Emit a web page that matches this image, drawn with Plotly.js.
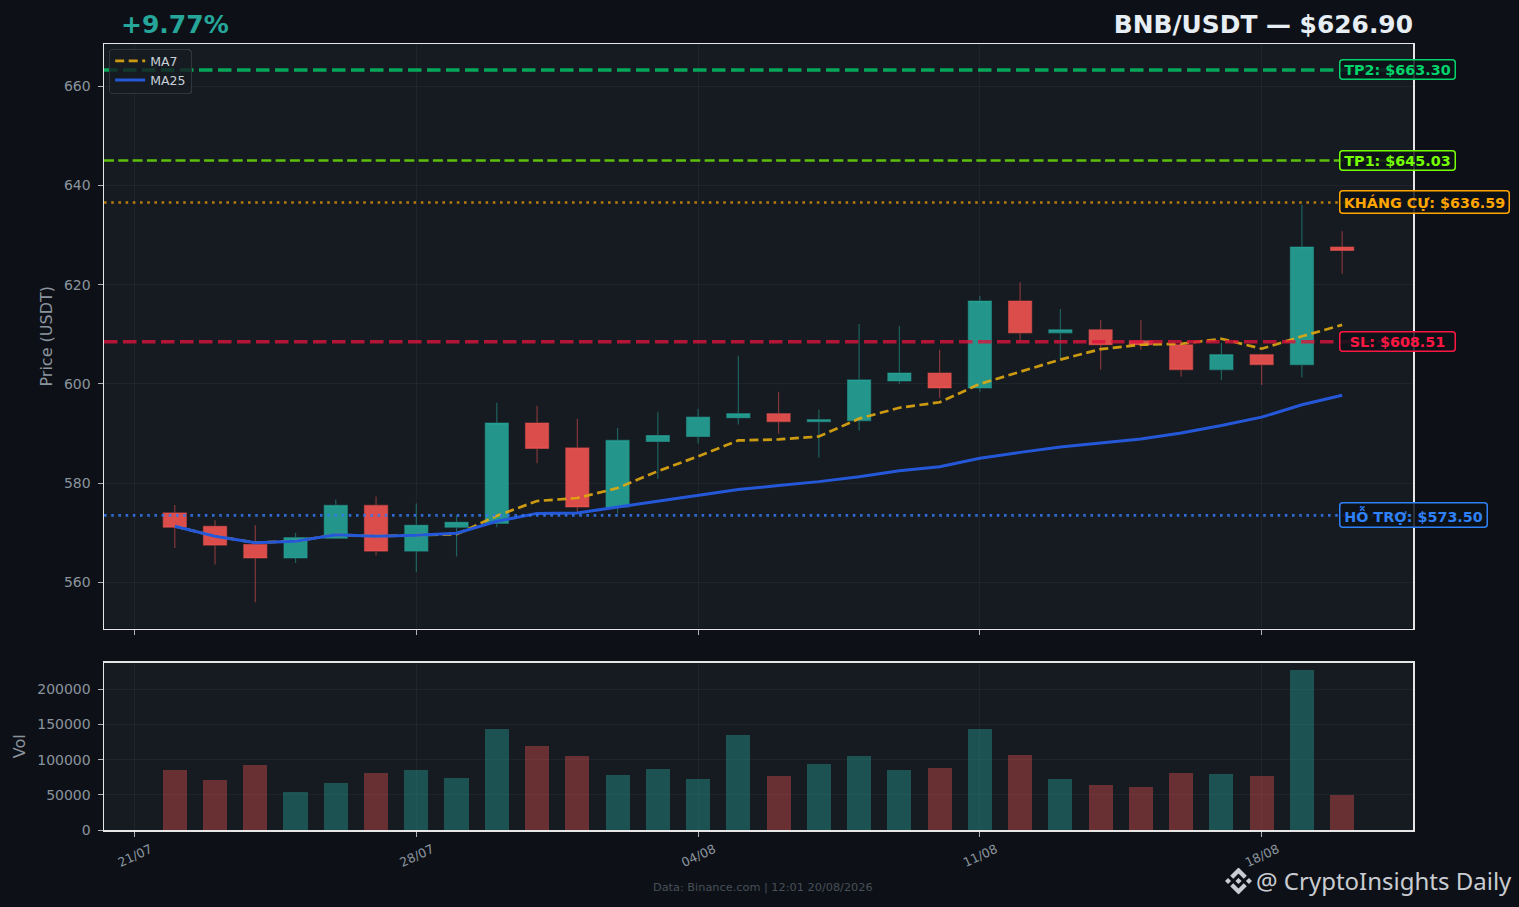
<!DOCTYPE html>
<html>
<head>
<meta charset="utf-8">
<script src="https://cdn.plot.ly/plotly-3.0.1.min.js"></script>
<style>html,body{margin:0;padding:0;background:#0d1117;overflow:hidden}#chart{width:1519px;height:907px}</style>
</head>
<body>
<div id="chart"></div>
<script>
const dates = ['2026-07-22','2026-07-23','2026-07-24','2026-07-25','2026-07-26','2026-07-27','2026-07-28','2026-07-29','2026-07-30','2026-07-31',
 '2026-08-01','2026-08-02','2026-08-03','2026-08-04','2026-08-05','2026-08-06','2026-08-07','2026-08-08','2026-08-09','2026-08-10',
 '2026-08-11','2026-08-12','2026-08-13','2026-08-14','2026-08-15','2026-08-16','2026-08-17','2026-08-18','2026-08-19','2026-08-20'];
const opens = [574.0,571.3,567.6,564.9,568.9,575.5,566.3,571.1,571.9,592.1,587.1,575.2,588.4,589.4,593.2,594.0,592.4,592.6,600.6,602.2,599.2,616.7,610.3,610.9,608.7,607.9,602.9,605.9,603.9,627.6];
const highs = [575.6,572.5,571.5,570.0,576.7,577.3,575.9,573.5,596.2,595.6,593.0,591.1,594.4,595.0,605.7,598.4,594.8,612.1,611.7,606.9,617.7,620.5,615.1,612.9,612.9,608.6,608.3,606.1,636.1,630.8];
const lows = [566.9,563.6,556.0,563.9,568.8,565.4,562.1,565.2,571.1,584.0,573.9,573.9,580.9,588.0,591.8,590.0,585.1,590.6,600.0,597.2,598.4,608.7,605.1,602.9,606.9,601.5,600.8,599.8,601.3,622.2];
const closes = [571.1,567.5,564.9,569.0,575.5,566.3,571.5,572.1,592.1,587.0,575.2,588.6,589.6,593.3,594.0,592.4,592.8,600.8,602.2,599.2,616.7,610.3,610.9,607.9,607.9,602.9,605.9,603.9,627.6,626.9];
const ma7 = [571.3,569.3,568.0,568.3,569.6,569.3,569.5,569.7,573.4,576.4,577.0,579.0,582.4,585.4,588.6,588.8,589.4,593.0,595.2,596.3,600.0,602.5,604.9,607.0,607.9,608.1,609.1,607.1,609.6,611.9];
const ma25 = [571.3,569.3,568.0,568.3,569.6,569.3,569.5,569.9,572.3,573.9,574.0,575.2,576.4,577.6,578.7,579.5,580.3,581.3,582.5,583.3,585.0,586.2,587.3,588.1,588.9,590.1,591.6,593.3,595.8,597.7];
const volumes = [85200,71000,92300,54000,66700,81000,85200,73900,143500,119300,105100,78100,86600,72400,134900,76700,93700,105100,85200,88000,143500,106500,72400,63900,61000,81000,79500,76700,227300,49700];

const levelPrices = [663.30,645.03,636.59,608.51,573.50];
const levelText = ['TP2: $663.30','TP1: $645.03','KHÁNG CỰ: $636.59','SL: $608.51','HỖ TRỢ: $573.50'];
const levelLineColors = ['rgba(0,200,100,0.82)','rgba(118,255,3,0.72)','rgba(255,165,0,0.7)','rgba(220,20,60,0.8)','rgba(50,120,240,0.85)'];
const levelTextColors = ['#00d46a','#76ff03','#ffa500','#ff1744','#2f81f7'];
const levelDash = ['13.5px,5.5px','10px,4.3px','2.6px,4.6px','13.5px,5.5px','2.6px,4.6px'];
const levelWidth = [3.4,2.4,2.6,3.4,2.6];
const labelWidth = [114,114,168,114,146];
const labelHeight = [18,18,21,18,23];

const upColor = 'rgba(38,166,154,0.88)', downColor = 'rgba(239,83,80,0.9)';
const volColors = closes.map((c,i) => c >= opens[i] ? 'rgba(38,166,154,0.40)' : 'rgba(239,83,80,0.38)');
const font = 'DejaVu Sans, sans-serif';

const L = 104, W = 1309, B = 830, H = 786;
const px = v => (v - L) / W, py = v => (B - v) / H;

const logoSvg = '<svg xmlns="http://www.w3.org/2000/svg" viewBox="0 0 126.61 126.61"><path fill="#c9ccd1" d="M38.73 53.2l24.59-24.58 24.6 24.6 14.3-14.31L63.32 0 24.41 38.9l14.32 14.3z M0 63.31l14.3-14.31 14.31 14.31-14.31 14.3z M38.73 73.41l24.59 24.59 24.6-24.6 14.31 14.29-38.9 38.91-38.91-38.88-.02-.02 14.33-14.29z M98 63.31l14.3-14.31 14.31 14.3-14.31 14.32z M77.83 63.3l-14.51-14.52-10.73 10.73-1.24 1.23-2.54 2.54 14.51 14.5 14.51-14.52z"/></svg>';

const traces = [
 {type:'candlestick',x:dates,open:opens,high:highs,low:lows,close:closes,xaxis:'x2',yaxis:'y2',showlegend:false,hoverinfo:'skip',whiskerwidth:0,
  increasing:{line:{color:'rgba(38,166,154,0.5)',width:1.2},fillcolor:upColor},
  decreasing:{line:{color:'rgba(239,83,80,0.5)',width:1.2},fillcolor:downColor}},
 {type:'scatter',mode:'lines',name:'MA7',x:dates,y:ma7,xaxis:'x2',yaxis:'y2',line:{color:'#e0a80f',width:2.7,dash:'9px,4.5px'},opacity:0.9},
 {type:'scatter',mode:'lines',name:'MA25',x:dates,y:ma25,xaxis:'x2',yaxis:'y2',line:{color:'#2558d8',width:3}},
 {type:'bar',x:dates,y:volumes,width:0.6*864e5,marker:{color:volColors,line:{width:0}},xaxis:'x',yaxis:'y',showlegend:false,hoverinfo:'skip'}
];

const gridColor = 'rgba(139,148,158,0.08)';
const xRange = ['2026-07-20 05:48','2026-08-21 18:14'];
const xCommon = {type:'date',range:xRange,tick0:'2026-07-21',dtick:7*864e5,tickformat:'%d/%m',showgrid:true,gridcolor:gridColor,gridwidth:1,
  zeroline:false,showline:true,mirror:true,linecolor:'#e6e6e6',linewidth:1.5,ticks:'outside',ticklen:5,tickwidth:1,tickcolor:'#b0b5bb',rangeslider:{visible:false}};
const yCommon = {showgrid:true,gridcolor:gridColor,gridwidth:1,zeroline:false,showline:true,mirror:true,linecolor:'#e6e6e6',linewidth:1.5,
  ticks:'outside',ticklen:5,tickwidth:1,tickcolor:'#b0b5bb',ticklabelstandoff:4,tickfont:{family:font,size:14,color:'#8b949e'}};

const layout = {
 width:1519,height:907,paper_bgcolor:'#0d1117',plot_bgcolor:'#161b22',
 margin:{l:L,r:1519-L-W,t:907-B-0-77+B-H-(907-B-77)+0,b:77,pad:0},
 font:{family:font,color:'#8b949e'},
 title:{text:'<b>BNB/USDT — $626.90</b>',xref:'paper',x:1,xanchor:'right',yref:'container',y:1-24/907,yanchor:'middle',font:{family:font,size:24.9,color:'#e6edf3'}},
 xaxis:Object.assign({},xCommon,{domain:[0,1],anchor:'y',tickfont:{family:font,size:12.5,color:'#8b949e'},tickangle:-25,ticklabelshift:16,ticklabelstandoff:1}),
 xaxis2:Object.assign({},xCommon,{domain:[0,1],anchor:'y2',matches:'x',showticklabels:false}),
 yaxis:Object.assign({},yCommon,{domain:[0,py(662.5)],range:[0,238100],anchor:'x',tickvals:[0,50000,100000,150000,200000],ticktext:['0','50000','100000','150000','200000'],title:{text:'Vol',font:{family:font,size:16,color:'#8b949e'},standoff:7}}),
 yaxis2:Object.assign({},yCommon,{domain:[py(628.5),1],range:[550.69,668.53],anchor:'x2',tickvals:[560,580,600,620,640,660],title:{text:'Price (USDT)',font:{family:font,size:16,color:'#8b949e'},standoff:7}}),
 legend:{x:px(109),y:py(49),xanchor:'left',yanchor:'top',xref:'paper',yref:'paper',bgcolor:'rgba(22,27,34,0.8)',bordercolor:'#30363d',borderwidth:1.2,font:{family:font,size:12.5,color:'#c9d1d9'},itemwidth:30},
 shapes:levelPrices.map((p,i)=>({type:'line',xref:'paper',x0:0,x1:1,yref:'y2',y0:p,y1:p,layer:'above',line:{color:levelLineColors[i],width:levelWidth[i],dash:levelDash[i]}})),
 annotations:levelPrices.map((p,i)=>({xref:'x2',yref:'y2',x:'2026-08-19 22:20',y:p,text:'<b>'+levelText[i]+'</b>',showarrow:false,xanchor:'left',yanchor:'middle',
    align:'center',valign:'middle',width:labelWidth[i],height:labelHeight[i],bgcolor:'rgba(13,17,23,0.85)',bordercolor:levelTextColors[i],borderwidth:1.5,borderpad:0,
    font:{family:font,size:14.35,color:levelTextColors[i]}})).concat([
  {xref:'paper',yref:'paper',x:px(119),y:py(24),xanchor:'left',yanchor:'middle',showarrow:false,text:'<b>+9.77%</b>',font:{family:font,size:25,color:'#26a69a'}},
  {xref:'paper',yref:'paper',x:px(763),y:py(887),xanchor:'center',yanchor:'middle',showarrow:false,text:'Data: Binance.com | 12:01 20/08/2026',font:{family:font,size:11.3,color:'#484f58'}},
  {xref:'paper',yref:'paper',x:px(1514),y:py(880),xanchor:'right',yanchor:'middle',showarrow:false,text:'@ CryptoInsights Daily',font:{family:'Noto Sans, sans-serif',size:24,color:'#c9ccd1'}}
 ]),
 images:[{source:'data:image/svg+xml;charset=utf-8,'+encodeURIComponent(logoSvg),xref:'paper',yref:'paper',x:px(1225),y:py(867.5),sizex:27/W,sizey:27/H,xanchor:'left',yanchor:'top',sizing:'stretch',layer:'above'}],
 bargap:0,boxgap:0.18,hovermode:false,dragmode:false
};
layout.margin.t = B - H;

Plotly.newPlot('chart',traces,layout,{displayModeBar:false,staticPlot:true}).then(()=>{
  document.querySelectorAll('.annotation rect.bg').forEach(r=>{ if(r.getAttribute('width')>50 && r.style.strokeWidth!=='0px') r.setAttribute('rx',3); });
  const bg=document.querySelector('.legend rect.bg');
  if(bg){bg.setAttribute('rx',3);bg.setAttribute('height',44);}
  const g=document.querySelector('.legend .groups');
  if(g){g.setAttribute('transform','translate(0,-4)');}
});
</script>
</body>
</html>
